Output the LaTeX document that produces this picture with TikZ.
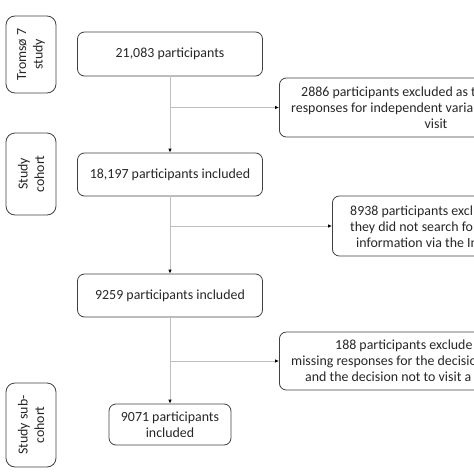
\documentclass[tikz,border=0pt]{standalone}
\usepackage{fontspec}
\setmainfont{Carlito}
\usetikzlibrary{arrows.meta}

\begin{document}
\begin{tikzpicture}[x=1pt,y=-1pt,
  every node/.style={font=\fontsize{13.9}{16.5}\selectfont, text=black!85},
  box/.style={draw=black!75, line width=0.8pt, rounded corners=7pt, inner sep=2pt, align=center},
  tag/.style={box, rotate=90, minimum height=50pt, rounded corners=9pt},
  frag/.style={anchor=base west, inner sep=0pt},
  link/.style={draw=black!25, line width=0.8pt, -{Latex[length=4pt,width=3.6pt,color=black]}}]
\useasboundingbox (0,0) rectangle (474,474);
\clip (0,0) rectangle (474,474);

% stage labels
\node[tag, minimum width=77pt] (tromso) at (31,54.5) {Tromsø 7\\study};
\node[tag, minimum width=82pt] (cohort) at (31,174) {Study\\cohort};
\node[tag, minimum width=84pt] (subcohort) at (31,425) {Study sub-\\cohort};

% main column
\node[box, minimum width=185pt, minimum height=44pt] (all) at (170,54) {21,083 participants};
\node[box, minimum width=185pt, minimum height=43pt] (incl1) at (170,174.5) {18,197 participants included};
\node[box, minimum width=185pt, minimum height=43pt] (incl2) at (170,295.5) {9259 participants included};
\node[box, minimum width=122pt, minimum height=41pt] (final) at (170,424.5) {9071 participants\\included};

% exclusion boxes (cut at the right edge)
\node[box, anchor=west, minimum width=320pt, minimum height=59pt] (exA) at (279,107.5) {};
\node[box, anchor=west, minimum width=320pt, minimum height=60pt] (exB) at (332,226) {};
\node[box, anchor=west, minimum width=320pt, minimum height=58pt] (exC) at (279,361) {};

\node[frag] (exA1) at (301,96.5) {2886 participants excluded as t};
\node[frag] (exA2) at (291,112.5) {responses for independent varia};
\node[anchor=base, inner sep=0pt] (exA3) at (436,128.5) {visit};
\node[frag] (exB1) at (350,215.5) {8938 participants excl};
\node[frag] (exB2) at (350,231.5) {they did not search fo};
\node[frag] (exB3) at (356,247.5) {information via the In};
\node[frag] (exC1) at (335,349.5) {188 participants exclude};
\node[frag] (exC2) at (291,365.5) {missing responses for the decisio};
\node[frag] (exC3) at (305,381.5) {and the decision not to visit a};

% connectors
\coordinate (brA) at (all.south |- exA.west);
\coordinate (brB) at (incl1.south |- exB.west);
\coordinate (brC) at (incl2.south |- exC.west);
\draw[link] (all.south) -- (incl1.north);
\draw[link] (incl1.south) -- (incl2.north);
\draw[link] (incl2.south) -- (final.north);
\draw[link] (brA) -- (exA.west);
\draw[link] (brB) -- (exB.west);
\draw[link] (brC) -- (exC.west);
\end{tikzpicture}
\end{document}
